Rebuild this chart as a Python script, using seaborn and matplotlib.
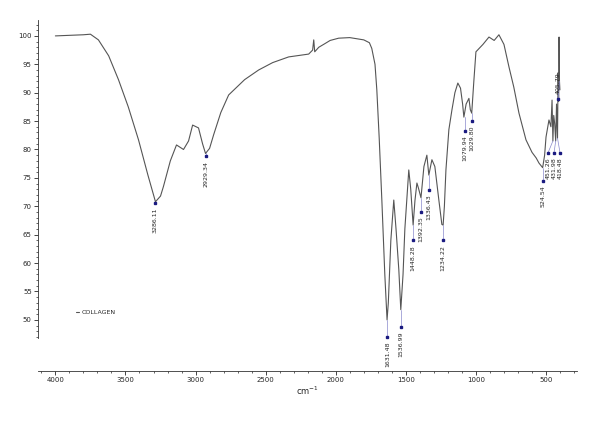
import numpy as np
import pandas as pd
import matplotlib
matplotlib.use("Agg")
import matplotlib.pyplot as plt
import seaborn as sns
from matplotlib.ticker import MultipleLocator, FixedLocator

# spectrum (wavenumber, transmittance)
wavenumber = [4000, 3900, 3800, 3750, 3693, 3620, 3550, 3480, 3407, 3340, 3286, 3250, 3229, 3180,
              3136, 3086, 3050, 3021, 2979, 2950, 2929, 2900, 2871, 2820, 2764, 2650, 2550, 2450,
              2336, 2250, 2193, 2165, 2157, 2150, 2121, 2080, 2040, 1979, 1900, 1800, 1760, 1743,
              1720, 1707, 1690, 1671, 1650, 1634, 1625, 1607, 1586, 1570, 1550, 1536, 1520, 1507,
              1479, 1465, 1448, 1435, 1421, 1410, 1392, 1371, 1350, 1336, 1314, 1293, 1264, 1243,
              1234, 1225, 1214, 1193, 1171, 1150, 1129, 1110, 1095, 1086, 1070, 1050, 1040, 1030,
              1015, 1000, 950, 907, 870, 836, 800, 764, 730, 693, 643, 600, 570, 550, 524, 510,
              500, 479, 465, 457, 451, 445, 438, 431, 425, 418, 414, 410, 407, 404, 401]
transmittance = [100.0, 100.1, 100.2, 100.3, 99.3, 96.5, 92.3, 87.5, 81.7, 75.5, 70.8, 71.8, 73.5, 78.0,
                 80.8, 80.0, 81.5, 84.3, 83.8, 81.0, 79.3, 80.2, 82.6, 86.5, 89.6, 92.3, 94.0, 95.3,
                 96.3, 96.6, 96.8, 97.5, 99.3, 97.2, 98.0, 98.6, 99.2, 99.6, 99.7, 99.3, 98.8, 97.8,
                 95.0, 90.5, 82.0, 71.0, 58.0, 50.0, 53.0, 64.0, 71.1, 66.0, 58.8, 51.8, 58.0, 66.0,
                 76.4, 73.0, 66.7, 71.0, 74.1, 73.2, 71.5, 77.0, 79.0, 75.5, 78.2, 77.0, 71.0, 66.8,
                 66.7, 70.0, 76.4, 83.5, 87.0, 90.0, 91.7, 90.8, 88.0, 85.7, 88.0, 89.0, 87.0, 86.4,
                 92.0, 97.2, 98.5, 99.8, 99.2, 100.2, 98.5, 94.5, 91.0, 86.4, 81.7, 79.5, 78.5, 77.6,
                 76.8, 79.0, 82.2, 85.2, 84.0, 88.7, 81.5, 86.0, 84.5, 81.5, 88.0, 82.0, 93.5, 88.5,
                 99.8, 92.0, 90.5]

peak_labels = ["3286.11", "2929.34", "1631.48", "1536.99", "1448.28", "1392.35", "1336.43", "1234.22",
               "1079.94", "1029.80", "524.54", "451.26", "431.98", "418.48", "405.79"]
peak_x = [3286, 2929, 1631, 1536, 1448, 1392, 1336, 1234, 1079, 1029, 524, 451, 431, 418, 405]
peak_curve = [70.8, 79.3, 50.0, 51.8, 66.7, 71.5, 75.5, 66.7, 85.7, 86.4, 76.8, 81.5, 81.5, 82.0, 92.0]
# where the marker/label sits (spread out where peaks crowd)
mark_x = [3286, 2929, 1631, 1536, 1448, 1392, 1336, 1234, 1079, 1029, 524, 486, 443, 400, 412]
mark_y = [70.6, 78.8, 47.0, 48.8, 64.0, 69.0, 72.9, 64.0, 83.3, 85.0, 74.5, 79.4, 79.4, 79.4, 88.9]

df = pd.DataFrame({"wn": wavenumber, "T": transmittance})

sns.set_style("white")
plt.rcParams['font.family'] = ['DejaVu Sans']
fig = plt.figure(figsize=(6, 4.24), dpi=100)
ax = fig.add_axes([38 / 600, 53 / 424, 539 / 600, 351 / 424])

sns.lineplot(data=df, x="wn", y="T", ax=ax, color="#555555", lw=0.8, sort=False, label="COLLAGEN")

for lab, px, pc, mx, my in zip(peak_labels, peak_x, peak_curve, mark_x, mark_y):
    ax.plot([px, mx], [pc, my], color="#8888cc", lw=0.5)
    ax.plot(mx, my, "s", color="#1a1a80", ms=1.6)
    if lab == "405.79":
        ax.text(mx, my + 0.8, lab, rotation=90, ha="center", va="bottom", fontsize=4.5)
    else:
        ax.text(mx, my - 0.8, lab, rotation=90, ha="center", va="top", fontsize=4.5)

ax.set_xlim(4124, 279)
ax.set_ylim(41.0, 102.8)
ax.xaxis.set_major_locator(MultipleLocator(500))
ax.xaxis.set_minor_locator(MultipleLocator(100))
ax.set_yticks(range(50, 101, 5))
ax.yaxis.set_minor_locator(FixedLocator(range(47, 103)))
ax.spines['top'].set_visible(False)
ax.spines['right'].set_visible(False)
ax.spines['left'].set_bounds(46.8, 102.8)
for s in ['left', 'bottom']:
    ax.spines[s].set_linewidth(0.6)
    ax.spines[s].set_color("#333333")
ax.tick_params(which='major', direction='out', length=3, width=0.6, labelsize=5, pad=1.5, left=True, bottom=True)
ax.tick_params(which='minor', direction='out', length=1.5, width=0.5, left=True, bottom=True)
ax.set_xlabel("cm$^{-1}$", fontsize=6, labelpad=1)
ax.set_ylabel("")
ax.legend(loc="upper left", bbox_to_anchor=(0.06, 0.19), frameon=False, fontsize=4.5,
          handlelength=0.5, handletextpad=0.4)

fig.savefig("out.png", dpi=100)
